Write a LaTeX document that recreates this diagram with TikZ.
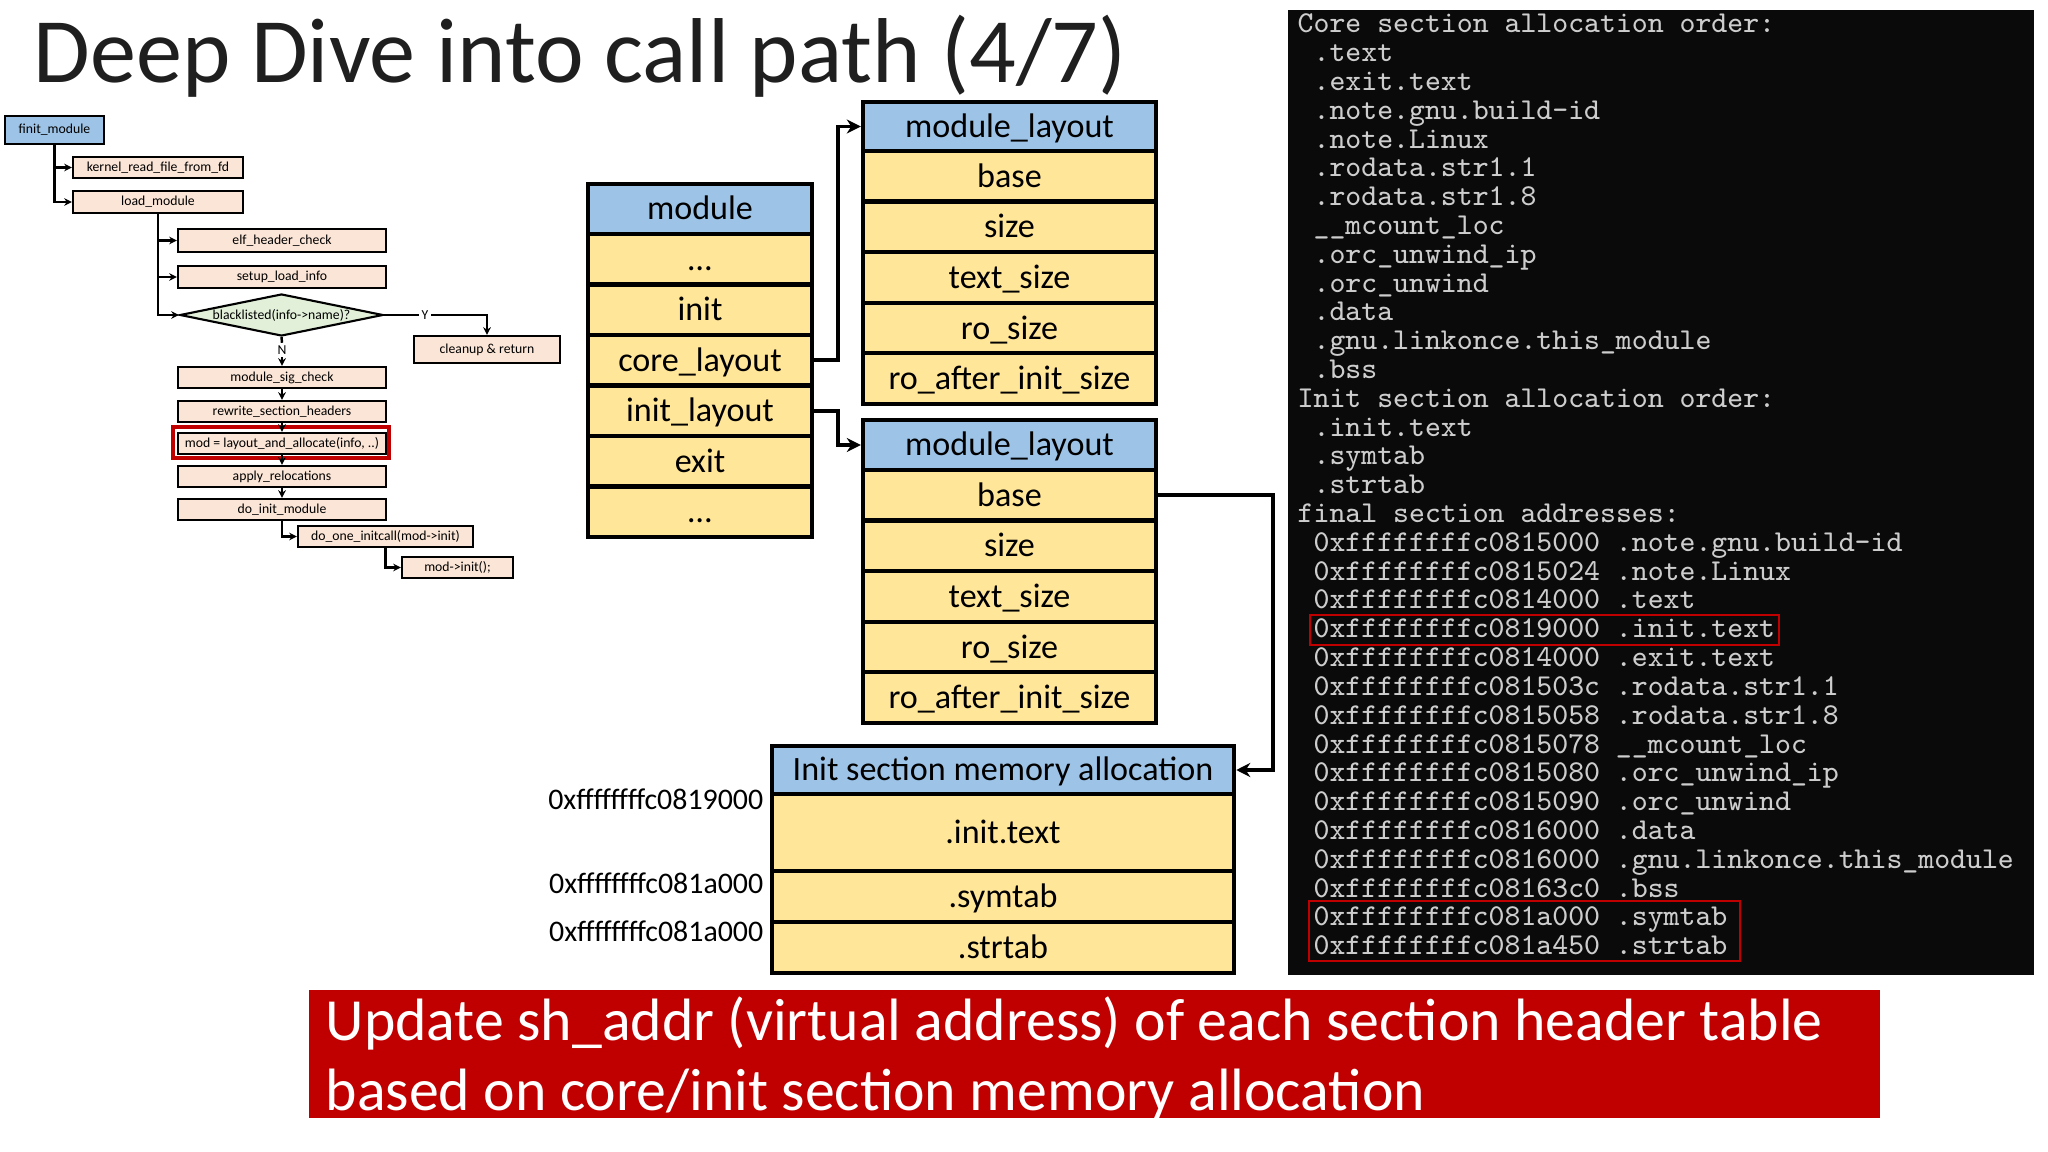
\documentclass[tikz,border=0pt]{standalone}
\usepackage{fontspec}
\setmainfont{Carlito}
\usetikzlibrary{arrows.meta,shapes.geometric}
\definecolor{hdr}{HTML}{9DC3E6}
\definecolor{yel}{HTML}{FFE699}
\definecolor{peach}{HTML}{FBE5D6}
\definecolor{lgreen}{HTML}{E2F0D9}
\definecolor{dred}{HTML}{C00000}
\definecolor{termgray}{RGB}{205,205,205}
\begin{document}
\begin{tikzpicture}[x=0.01cm,y=-0.01cm,
  fc/.style={draw, line width=0.6pt, fill=peach, inner sep=0pt, minimum height=0.21cm,
    font=\fontsize{3.9pt}{4.5pt}\selectfont, text height=3pt, text depth=0.8pt},
  fclabel/.style={inner sep=0.6pt, font=\fontsize{3.9pt}{4.5pt}\selectfont},
  farr/.style={line width=0.7pt, -{Stealth[length=2.2pt,width=2.2pt]}},
  fline/.style={line width=0.7pt},
  cell/.style={draw, line width=1.2pt, fill=yel, inner sep=0pt,
    font=\fontsize{9.7pt}{11pt}\selectfont, text height=8pt, text depth=1.8pt},
  hcell/.style={cell, fill=hdr},
  conn/.style={line width=1.1pt, -{Stealth[length=4pt,width=4pt]}},
  addr/.style={anchor=east, inner sep=0pt, font=\fontsize{8.5pt}{10pt}\selectfont},
  term/.style={anchor=base west, inner sep=0pt, text=termgray,
    font=\ttfamily\fontsize{8.62pt}{9pt}\selectfont},
  redframe/.style={draw=dred, inner sep=0pt}
]
\useasboundingbox[fill=white] (0,0) rectangle (2048,1152);

% title
\node[anchor=base west, inner sep=0pt, text=black!88, font=\fontsize{26.2pt}{30pt}\selectfont] (title) at (33,83) {Deep Dive into call path (4/7)};

% ---------- flowchart ----------
\node[fc, fill=hdr, minimum width=0.99cm, minimum height=0.28cm] (finit) at (54.5,130) {finit\_module};
\node[fc, minimum width=1.70cm] (kr) at (158,167.5) {kernel\_read\_file\_from\_fd};
\node[fc, minimum width=1.70cm, minimum height=0.22cm] (lm) at (158,202) {load\_module};
\node[fc, minimum width=2.08cm, minimum height=0.23cm] (elf) at (282,240.5) {elf\_header\_check};
\node[fc, minimum width=2.08cm, minimum height=0.22cm] (setup) at (282,277) {setup\_load\_info};
\node[draw, line width=0.6pt, fill=lgreen, diamond, aspect=4.83, inner sep=0pt,
  minimum width=2.03cm, minimum height=0.42cm, font=\fontsize{3.9pt}{4.5pt}\selectfont] (dia) at (281.5,315) {blacklisted(info->name)?};
\node[fclabel] (Y) at (425,315) {Y};
\node[fc, minimum width=1.46cm, minimum height=0.27cm] (clean) at (487,349.5) {cleanup \& return};
\node[fclabel] (N) at (282,350) {N};
\node[fc, minimum width=2.08cm] (sig) at (282,377.5) {module\_sig\_check};
\node[fc, minimum width=2.08cm] (rew) at (282,411.5) {rewrite\_section\_headers};
\node[redframe, line width=0.9pt, minimum width=2.16cm, minimum height=0.31cm] (layred) at (281,442.5) {};
\node[fc, minimum width=2.08cm] (lay) at (282,443.5) {mod = layout\_and\_allocate(info, ..)};
\node[fc, minimum width=2.08cm] (app) at (282,476.5) {apply\_relocations};
\node[fc, minimum width=2.08cm] (doinit) at (282,509.5) {do\_init\_module};
\node[fc, minimum width=1.75cm] (doone) at (385.5,536.5) {do\_one\_initcall(mod->init)};
\node[fc, minimum width=1.11cm] (modinit) at (457.5,567.5) {mod->init();};

\draw[farr] (finit.south) |- (kr.west);
\draw[farr] (finit.south) |- (lm.west);
\draw[farr] (lm.south) |- (elf.west);
\draw[farr] (lm.south) |- (setup.west);
\draw[farr] (lm.south) |- (dia.west);
\draw[fline] (dia.east) -- (Y.west);
\draw[farr] (Y.east) -| (clean.north);
\draw[fline] (dia.south) -- (N.north);
\draw[farr] (N.south) -- (sig.north);
\draw[farr] (sig.south) -- (rew.north);
\draw[farr] (rew.south) -- (lay.north);
\draw[farr] (lay.south) -- (app.north);
\draw[farr] (app.south) -- (doinit.north);
\draw[farr] (doinit.south) |- (doone.west);
\draw[farr] (doone.south) |- (modinit.west);

% ---------- module table ----------
\begin{scope}[every node/.append style={minimum width=2.24cm, minimum height=0.505cm}]
\node[hcell, minimum height=0.50cm] (mh) at (700,209) {module};
\node[cell] (m1) at (700,259.25) {…};
\node[cell] (minitf) at (700,309.75) {init};
\node[cell] (mcore) at (700,360.25) {core\_layout};
\node[cell] (minit) at (700,410.75) {init\_layout};
\node[cell] (mexit) at (700,461.25) {exit};
\node[cell] (m6) at (700,511.75) {…};
\end{scope}

% ---------- upper module_layout ----------
\begin{scope}[every node/.append style={minimum width=2.93cm, minimum height=0.506cm}]
\node[hcell, minimum height=0.49cm] (uh) at (1009.5,126.5) {module\_layout};
\node[cell] (ub) at (1009.5,176.3) {base};
\node[cell] (us) at (1009.5,226.9) {size};
\node[cell] (ut) at (1009.5,277.5) {text\_size};
\node[cell] (ur) at (1009.5,328.1) {ro\_size};
\node[cell] (ua) at (1009.5,378.7) {ro\_after\_init\_size};
\end{scope}

% ---------- lower module_layout ----------
\begin{scope}[every node/.append style={minimum width=2.93cm, minimum height=0.506cm}]
\node[hcell, minimum height=0.50cm] (lh) at (1009.5,445) {module\_layout};
\node[cell] (lbase) at (1009.5,495.3) {base};
\node[cell] (ls) at (1009.5,545.9) {size};
\node[cell] (lt) at (1009.5,596.5) {text\_size};
\node[cell] (lr) at (1009.5,647.1) {ro\_size};
\node[cell] (la) at (1009.5,697.7) {ro\_after\_init\_size};
\end{scope}

% ---------- init section table ----------
\begin{scope}[every node/.append style={minimum width=4.62cm}]
\node[hcell, minimum height=0.48cm] (ih) at (1003,770) {Init section memory allocation};
\node[cell, minimum height=0.77cm] (iit) at (1003,832.5) {.init.text};
\node[cell, minimum height=0.51cm] (isym) at (1003,896.5) {.symtab};
\node[cell, minimum height=0.51cm] (istr) at (1003,947.5) {.strtab};
\end{scope}

\node[addr] (a1) at (764,799) {0xffffffffc0819000};
\node[addr] (a2) at (764,883) {0xffffffffc081a000};
\node[addr] (a3) at (764,931) {0xffffffffc081a000};

% connectors
\draw[conn] (mcore.east) -- ++(24,0) |- (uh.west);
\draw[conn] (minit.east) -- ++(24,0) |- (lh.west);
\draw[conn] (lbase.east) -- ++(115,0) |- (ih.east);

% ---------- terminal ----------
\fill[black!96] (1288,10) rectangle (2034,975);
\foreach \ind/\txt [count=\i] in {
 0/Core section allocation order:,
 1/.text,
 1/.exit.text,
 1/.note.gnu.build-id,
 1/.note.Linux,
 1/.rodata.str1.1,
 1/.rodata.str1.8,
 1/\_\_mcount\_loc,
 1/.orc\_unwind\_ip,
 1/.orc\_unwind,
 1/.data,
 1/.gnu.linkonce.this\_module,
 1/.bss,
 0/Init section allocation order:,
 1/.init.text,
 1/.symtab,
 1/.strtab,
 0/final section addresses:,
 1/0xffffffffc0815000 .note.gnu.build-id,
 1/0xffffffffc0815024 .note.Linux,
 1/0xffffffffc0814000 .text,
 1/0xffffffffc0819000 .init.text,
 1/0xffffffffc0814000 .exit.text,
 1/0xffffffffc081503c .rodata.str1.1,
 1/0xffffffffc0815058 .rodata.str1.8,
 1/0xffffffffc0815078 \_\_mcount\_loc,
 1/0xffffffffc0815080 .orc\_unwind\_ip,
 1/0xffffffffc0815090 .orc\_unwind,
 1/0xffffffffc0816000 .data,
 1/0xffffffffc0816000 .gnu.linkonce.this\_module,
 1/0xffffffffc08163c0 .bss,
 1/0xffffffffc081a000 .symtab,
 1/0xffffffffc081a450 .strtab}
 \node[term, name=t\i] at ({1297+15.9*\ind},{33+28.8*(\i-1)}) {\txt};
\node[redframe, line width=0.6pt, minimum width=4.69cm, minimum height=0.30cm] (rb1) at (1544.5,630) {};
\node[redframe, line width=0.6pt, minimum width=4.31cm, minimum height=0.60cm] (rb2) at (1524.5,931) {};

% ---------- banner ----------
\node[fill=dred, inner sep=0pt, anchor=north west, minimum width=15.70cm, minimum height=1.28cm] (bn) at (308,989) {};
\node[anchor=base west, inner sep=0pt, text=white, font=\fontsize{17pt}{20pt}\selectfont] (b1) at (325,1040) {Update sh\_addr (virtual address) of each section header table};
\node[anchor=base west, inner sep=0pt, text=white, font=\fontsize{17pt}{20pt}\selectfont] (b2) at (325,1110) {based on core/init section memory allocation};
\end{tikzpicture}
\end{document}
